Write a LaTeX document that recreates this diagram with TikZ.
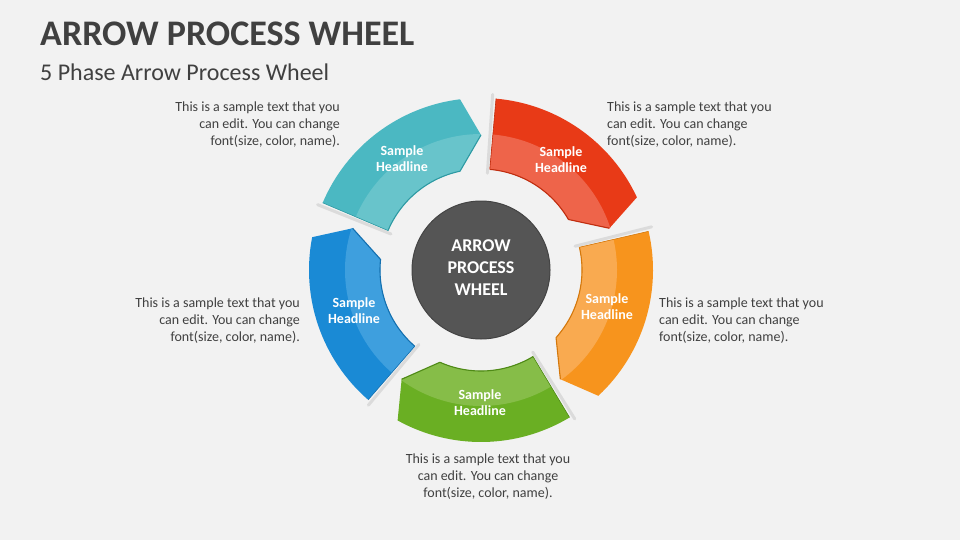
\documentclass[tikz,border=0pt]{standalone}
\usepackage{fontspec}
\setmainfont{Carlito}
\definecolor{bg}{HTML}{F2F2F2}
\definecolor{txt}{HTML}{404040}
\definecolor{hubfill}{HTML}{555555}
\definecolor{hubedge}{HTML}{444444}
\definecolor{cyanD}{HTML}{4BB8C2}
\definecolor{cyanL}{HTML}{68C4CB}
\definecolor{cyanE}{HTML}{2E9AA3}
\definecolor{redD}{HTML}{E83A17}
\definecolor{redL}{HTML}{EE644A}
\definecolor{redE}{HTML}{C02E10}
\definecolor{orangeD}{HTML}{F7941D}
\definecolor{orangeL}{HTML}{F9AA50}
\definecolor{orangeE}{HTML}{D4780C}
\definecolor{greenD}{HTML}{6AAF23}
\definecolor{greenL}{HTML}{86BD48}
\definecolor{greenE}{HTML}{4F8A17}
\definecolor{blueD}{HTML}{1A8AD5}
\definecolor{blueL}{HTML}{3E9FDE}
\definecolor{blueE}{HTML}{1470B0}
\newcommand\wheelseg[4]{%
  \draw[line width=3pt, black!35, opacity=0.3, line cap=round]
    ([shift={(C)}]{#1+1.2}:97) -- ([shift={(C)}]{#1+1.2}:176);
  \fill[#2] ([shift={(C)}]#1:172) arc[start angle=#1, end angle={#1-60}, radius=172]
    -- ([shift={(C)}]{#1-67}:135) -- ([shift={(C)}]{#1-55}:101)
    arc[start angle={#1-55}, end angle=#1, radius=101] -- cycle;
  \fill[#3] ([shift={(C)}]#1:136) arc[start angle=#1, end angle={#1-67}, radius=136]
    -- ([shift={(C)}]{#1-55}:101)
    arc[start angle={#1-55}, end angle=#1, radius=101] -- cycle;
  \draw[#4, line width=1.1pt, line join=round] ([shift={(C)}]{#1-67}:135) -- ([shift={(C)}]{#1-55}:101)
    arc[start angle={#1-55}, end angle=#1, radius=101];
  \draw[#4, line width=0.6pt] ([shift={(C)}]#1:101) -- ([shift={(C)}]#1:172);
}
\begin{document}
\begin{tikzpicture}[x=1pt,y=1pt,
  title/.style={anchor=base west, inner sep=0pt, text=txt, font=\fontsize{36}{40}\selectfont\bfseries},
  subtitle/.style={anchor=base west, inner sep=0pt, text=txt, font=\fontsize{24}{28}\selectfont},
  body/.style={inner sep=0pt, text=txt, font=\fontsize{14}{17}\selectfont},
  headline/.style={inner sep=0pt, text=white, align=center, font=\fontsize{14}{16}\selectfont\bfseries},
  hubtext/.style={inner sep=0pt, text=white, align=center, font=\fontsize{18}{22}\selectfont\bfseries}]
\fill[bg] (0,0) rectangle (960,-540);
\useasboundingbox (0,0) rectangle (960,-540);
\coordinate (C) at (481,-270);

\node[title] (t) at (40,-46) {ARROW PROCESS WHEEL};
\node[subtitle] (st) at (40,-81) {5 Phase Arrow Process Wheel};

\wheelseg{85}{redD}{redL}{redE}
\wheelseg{13}{orangeD}{orangeL}{orangeE}
\wheelseg{-59}{greenD}{greenL}{greenE}
\wheelseg{-131}{blueD}{blueL}{blueE}
\wheelseg{-203}{cyanD}{cyanL}{cyanE}

\node[circle, fill=hubfill, draw=hubedge, line width=1pt, minimum size=138pt, inner sep=0pt] (hub) at (481,-270) {};
\node[hubtext] (hubt) at (481,-268) {ARROW\\PROCESS\\WHEEL};

\node[headline] (h1) at (402,-159) {Sample\\Headline};
\node[headline] (h2) at (561,-160) {Sample\\Headline};
\node[headline] (h3) at (607,-307) {Sample\\Headline};
\node[headline] (h4) at (480,-403) {Sample\\Headline};
\node[headline] (h5) at (354,-311) {Sample\\Headline};

\node[body, align=right, anchor=east] (b1) at (340,-125) {This is a sample text that you\\can edit. You can change\\font(size, color, name).};
\node[body, align=left, anchor=west] (b2) at (607,-125) {This is a sample text that you\\can edit. You can change\\font(size, color, name).};
\node[body, align=left, anchor=west] (b3) at (659,-321) {This is a sample text that you\\can edit. You can change\\font(size, color, name).};
\node[body, align=center, anchor=center] (b4) at (488,-477) {This is a sample text that you\\can edit. You can change\\font(size, color, name).};
\node[body, align=right, anchor=east] (b5) at (300,-321) {This is a sample text that you\\can edit. You can change\\font(size, color, name).};
\end{tikzpicture}
\end{document}
